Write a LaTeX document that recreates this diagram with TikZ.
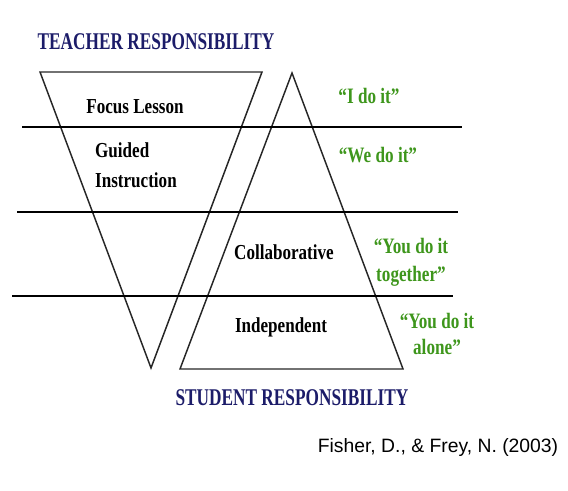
\documentclass[tikz,border=0pt]{standalone}
\usepackage{fontspec}
\setmainfont{Liberation Serif}
\setsansfont{Liberation Sans}
\usetikzlibrary{positioning}
\definecolor{headblue}{RGB}{28,28,105}
\definecolor{saygreen}{RGB}{62,150,28}

\begin{document}
\begin{tikzpicture}[x=0.75pt,y=-0.75pt,
	head/.style={font=\bfseries\fontsize{18}{20}\selectfont, text=headblue, xscale=0.72, inner sep=0pt},
	phase/.style={font=\bfseries\fontsize{16}{22.5}\selectfont, xscale=0.80, inner sep=0pt},
	say/.style={font=\bfseries\fontsize{16.5}{21}\selectfont, text=saygreen, xscale=0.78, align=center, inner sep=0pt},
	tri/.style={black!85, line width=1.1pt},
	rule/.style={black, line width=1.6pt}]
	\useasboundingbox (0,0) rectangle (568,491);
	% the two triangles
	\draw[tri] (40,72) -- (262,72) -- (151,368) -- cycle;
	\draw[tri] (292,73) -- (403,369) -- (180,369) -- cycle;
	% phase rules
	\foreach \ly/\lx/\rx in {127/22/462, 212/17/458, 296/12/453} {
		\draw[rule] (\lx,\ly) -- (\rx,\ly);
	}
	\node[head] (teacher) at (156,42) {TEACHER RESPONSIBILITY};
	\node[head] (student) at (292,398) {STUDENT RESPONSIBILITY};
	\node[phase] (focus) at (135,107) {Focus Lesson};
	\node[phase, align=left, anchor=west] (guided) at (95,165) {Guided\\Instruction};
	\node[phase] (collab) at (284,252) {Collaborative};
	\node[phase] (indep) at (281,327) {Independent};
	\node[say] (ido) at (369,96) {``I do it''};
	\node[say] (wedo) at (378,155) {``We do it''};
	\node[say] (together) at (411,262) {``You do it\\together''};
	\node[say, font=\bfseries\fontsize{16.5}{20}\selectfont] (alone) at (437,334) {``You do it\\alone''};
	\node[font=\sffamily\fontsize{14.5}{16}\selectfont, inner sep=0pt] (cite) at (438,448) {Fisher, D., \& Frey, N. (2003)};
\end{tikzpicture}
\end{document}
